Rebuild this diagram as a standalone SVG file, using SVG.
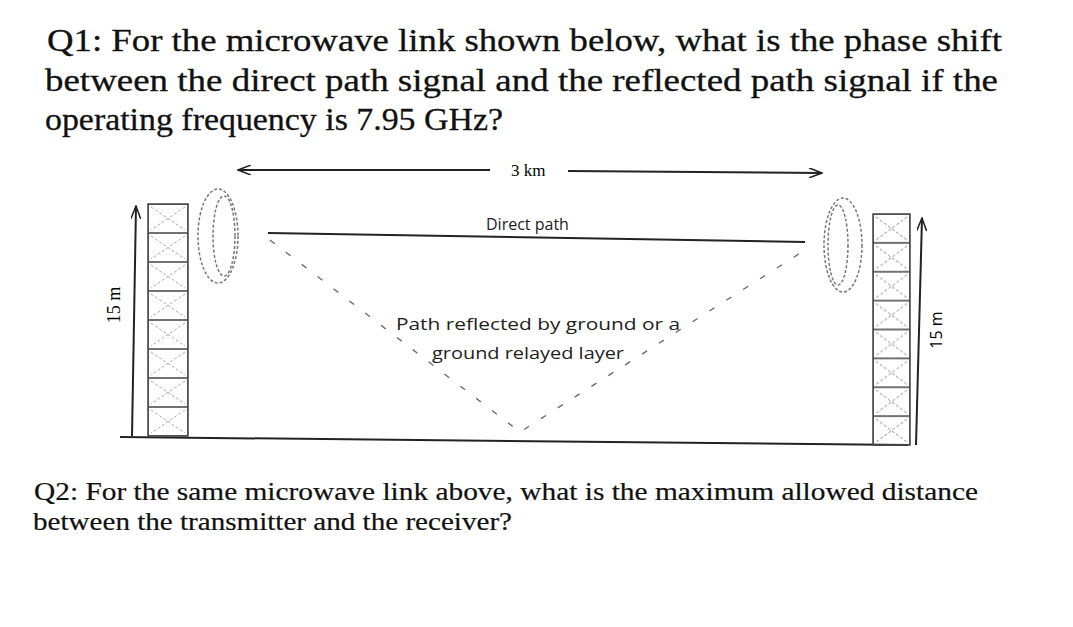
<svg xmlns="http://www.w3.org/2000/svg" width="1073" height="627" viewBox="0 0 1073 627">
<style>
.q{font-family:"Liberation Serif",serif;font-size:32px;fill:#111;stroke:#111;stroke-width:0.3}
.q2{font-family:"Liberation Serif",serif;font-size:25px;fill:#111;stroke:#111;stroke-width:0.2}
.s{font-family:"Open Sans","DejaVu Sans",sans-serif;font-size:16px;fill:#222}
.ln{stroke:#222;stroke-width:2;fill:none}
.cell{stroke:#444;stroke-width:1.5;fill:none}
.x{stroke:#aaa;stroke-width:1;stroke-dasharray:3 2}
.dish{stroke:#777;stroke-width:1.5;fill:none;stroke-dasharray:3 2}
.dash{stroke:#666;stroke-width:1.3;stroke-dasharray:6 14;fill:none}
</style>
<defs>
<marker id="a" markerWidth="14" markerHeight="10" refX="13" refY="5" orient="auto" markerUnits="userSpaceOnUse"><path d="M0,0 L13,5 L0,10" fill="none" stroke="#222" stroke-width="1.5"/></marker>
<pattern id="tw" x="148" y="204" width="40" height="29" patternUnits="userSpaceOnUse"><rect x="0" y="0" width="40" height="29" class="cell"/><path d="M3,3 L37,26 M37,3 L3,26" class="x"/></pattern>
<pattern id="tw2" x="873" y="214" width="37" height="28.875" patternUnits="userSpaceOnUse"><rect x="0" y="0" width="37" height="28.875" class="cell"/><path d="M3,3 L34,26 M34,3 L3,26" class="x"/></pattern>
</defs>
<rect width="1073" height="627" fill="#fff"/>
<g id="title">
<text class="q" x="47" y="51" textLength="955" lengthAdjust="spacingAndGlyphs">Q1: For the microwave link shown below, what is the phase shift</text>
<text class="q" x="45" y="91" textLength="953" lengthAdjust="spacingAndGlyphs">between the direct path signal and the reflected path signal if the</text>
<text class="q" x="45" y="130" textLength="458" lengthAdjust="spacingAndGlyphs">operating frequency is 7.95 GHz?</text>
</g>
<g id="connectors">
<line x1="490" y1="170" x2="238" y2="170" class="ln" stroke-width="1.5" marker-end="url(#a)"/>
<line x1="568" y1="171" x2="822" y2="173" class="ln" stroke-width="1.5" marker-end="url(#a)"/>
<line x1="268" y1="233" x2="805" y2="242" class="ln"/>
<polyline points="270,240 520,432 805,250" class="dash"/>
<line x1="120" y1="437" x2="908" y2="445" class="ln"/>
<line x1="132" y1="436" x2="136" y2="206" class="ln" marker-end="url(#a)"/>
<line x1="916" y1="445" x2="922" y2="218" class="ln" marker-end="url(#a)"/>
</g>
<g id="dist"><text x="511" y="176" style="font-family:'Liberation Serif',serif;font-size:17px">3 km</text></g>
<g id="direct"><text class="s" x="486" y="230">Direct path</text></g>
<g id="reflected">
<text class="s" x="396" y="330" textLength="284" lengthAdjust="spacingAndGlyphs">Path reflected by ground or a</text>
<text class="s" x="432" y="359" textLength="192" lengthAdjust="spacingAndGlyphs">ground relayed layer</text>
</g>
<g id="tx">
<rect x="148" y="204" width="40" height="232" fill="url(#tw)" stroke="#444" stroke-width="1.5"/>
<ellipse cx="218" cy="236" rx="20" ry="47" class="dish"/>
<ellipse cx="224" cy="236" rx="11" ry="40" class="dish"/>
<text x="120" y="305" transform="rotate(-90 120 305)" style="font-family:'Liberation Serif',serif;font-size:18px" text-anchor="middle">15 m</text>
</g>
<g id="rx">
<rect x="873" y="214" width="37" height="231" fill="url(#tw2)" stroke="#444" stroke-width="1.5"/>
<ellipse cx="843" cy="245" rx="19" ry="47" class="dish"/>
<ellipse cx="838" cy="245" rx="10" ry="40" class="dish"/>
<text x="942" y="330" transform="rotate(-90 942 330)" style="font-family:'Open Sans',sans-serif;font-size:16px" text-anchor="middle">15 m</text>
</g>
<g id="q2">
<text class="q2" x="34" y="500" textLength="944" lengthAdjust="spacingAndGlyphs">Q2: For the same microwave link above, what is the maximum allowed distance</text>
<text class="q2" x="33" y="530" textLength="479" lengthAdjust="spacingAndGlyphs">between the transmitter and the receiver?</text>
</g>
</svg>
